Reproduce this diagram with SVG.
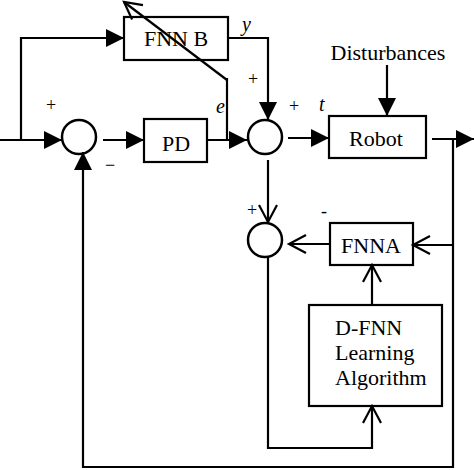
<svg xmlns="http://www.w3.org/2000/svg" width="474" height="470" viewBox="0 0 474 470">
<style>
.box{fill:#fff;stroke:#000;stroke-width:2.2}
.sum{fill:#fff;stroke:#000;stroke-width:2.5}
.ln{fill:none;stroke:#000;stroke-width:2.2}
.lbl{font-family:"Liberation Serif","Times New Roman",serif;font-size:22px;fill:#000}
.it{font-family:"Liberation Serif","Times New Roman",serif;font-size:20px;font-style:italic;fill:#000}
.sg{font-family:"Liberation Serif","Times New Roman",serif;font-size:18px;fill:#000;text-anchor:middle}
</style>
<defs>
<marker id="fa" markerUnits="userSpaceOnUse" markerWidth="18" markerHeight="18" viewBox="0 0 18 18" refX="18" refY="9" orient="auto">
<path d="M0,0 L18,9 L0,18 Z" fill="#000"/>
</marker>
<marker id="oa" markerUnits="userSpaceOnUse" markerWidth="22" markerHeight="22" viewBox="-2 -2 22 22" refX="17" refY="9" orient="auto">
<path d="M0,0 L17,9 L0,18" fill="none" stroke="#000" stroke-width="2.2"/>
</marker>
</defs>
<g id="sum1"><circle class="sum" cx="79" cy="137" r="17"/></g>
<g id="sum2"><circle class="sum" cx="265" cy="137" r="17"/></g>
<g id="sum3"><circle class="sum" cx="265" cy="240" r="17"/></g>
<g id="fnnb"><rect class="box" x="124" y="17" width="104" height="43"/><text class="lbl" x="176" y="46" text-anchor="middle">FNN B</text></g>
<g id="pd"><rect class="box" x="144" y="119" width="63" height="43"/><text class="lbl" x="176" y="151" text-anchor="middle">PD</text></g>
<g id="robot"><rect class="box" x="329" y="116" width="97" height="42"/><text class="lbl" x="376" y="146" text-anchor="middle">Robot</text></g>
<g id="fnna"><rect class="box" x="330" y="223" width="83" height="42"/><text class="lbl" x="371" y="253" text-anchor="middle">FNNA</text></g>
<g id="dfnn"><rect class="box" x="309" y="305" width="133" height="101"/>
<text class="lbl" x="335" y="335">D-FNN</text>
<text class="lbl" x="335" y="360">Learning</text>
<text class="lbl" x="335" y="385">Algorithm</text></g>
<g id="disturbances"><text class="lbl" x="388" y="60" text-anchor="middle">Disturbances</text></g>
<g id="connectors">
<line class="ln" x1="0" y1="140" x2="62" y2="140" marker-end="url(#fa)"/>
<polyline class="ln" points="21,140 21,38 124,38" marker-end="url(#fa)"/>
<line class="ln" x1="103" y1="140" x2="144" y2="140" marker-end="url(#fa)"/>
<line class="ln" x1="207" y1="140" x2="247" y2="140" marker-end="url(#fa)"/>
<line class="ln" x1="227" y1="78" x2="227" y2="140"/>
<line class="ln" x1="227" y1="80" x2="124" y2="2" marker-end="url(#oa)"/>
<polyline class="ln" points="228,38 268,38 268,120" marker-end="url(#fa)"/>
<line class="ln" x1="288" y1="138" x2="329" y2="138" marker-end="url(#fa)"/>
<line class="ln" x1="387" y1="65" x2="387" y2="116" marker-end="url(#fa)"/>
<line class="ln" x1="432" y1="139" x2="474" y2="139" marker-end="url(#fa)"/>
<polyline class="ln" points="453,139 453,467 83,467 83,152" marker-end="url(#fa)"/>
<line class="ln" x1="453" y1="245" x2="413" y2="245" marker-end="url(#oa)"/>
<line class="ln" x1="330" y1="244" x2="289" y2="244" marker-end="url(#oa)"/>
<line class="ln" x1="268" y1="160" x2="268" y2="222" marker-end="url(#oa)"/>
<line class="ln" x1="372" y1="305" x2="372" y2="265" marker-end="url(#oa)"/>
<polyline class="ln" points="268,257 268,448 372,448 372,406" marker-end="url(#oa)"/>
</g>
<g id="labels">
<text class="it" x="242" y="31">y</text>
<text class="it" x="216" y="113">e</text>
<text class="it" x="319" y="111">t</text>
<text class="sg" x="51" y="111">+</text>
<text class="sg" x="110" y="171">−</text>
<text class="sg" x="253" y="85">+</text>
<text class="sg" x="294" y="112">+</text>
<text class="sg" x="252" y="216">+</text>
<text class="sg" x="324" y="217">-</text>
</g>
</svg>
